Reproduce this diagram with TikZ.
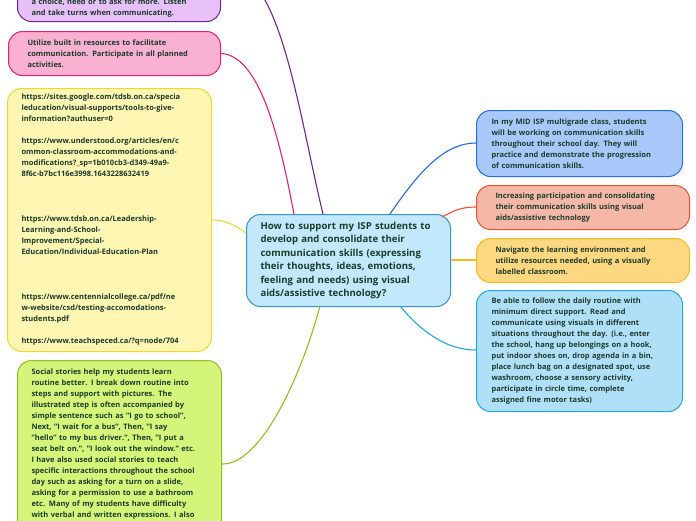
\documentclass[tikz,border=0pt]{standalone}
\usepackage{fontspec}
\setmainfont{Open Sans}
\begin{document}
\begin{tikzpicture}[x=1pt,y=-1pt,
 box/.style={draw,line width=1pt,rounded corners=14pt,anchor=north west,inner xsep=14pt,inner ysep=4pt,align=left,text=txt,font=\bfseries\fontsize{7.5}{11}\selectfont},
 conn/.style={line width=1.1pt}]
\definecolor{txt}{HTML}{1C3B2C}
\useasboundingbox (0,0) rectangle (696,520);
\clip (0,0) rectangle (696,520);
% boxes
\node[box,fill={rgb,255:red,232;green,192;blue,248},draw={rgb,255:red,110;green,40;blue,140},text width=175pt,anchor=south west] (pu) at (17,22) {\mbox{}\\[30pt]a choice, need or to ask for more. Listen\\and take turns when communicating.};
\node[box,fill={rgb,255:red,250;green,176;blue,208},draw={rgb,255:red,232;green,32;blue,120},text width=174pt,minimum height=44pt,inner xsep=19pt] (pi) at (8,31) {Utilize built in resources to facilitate\\communication. Participate in all planned\\activities.};
\node[box,fill={rgb,255:red,253;green,245;blue,178},draw={rgb,255:red,240;green,216;blue,50},text width=176pt,minimum height=263pt,inner xsep=14pt] (ye) at (7,88) {https://sites.google.com/tdsb.on.ca/specia\\leducation/visual-supports/tools-to-give-\\information?authuser=0\\[11pt]https://www.understood.org/articles/en/c\\ommon-classroom-accommodations-and-\\modifications?\_sp=1b010cb3-d349-49a9-\\8f6c-b7bc116e3998.1643228632419\\[34pt]https://www.tdsb.on.ca/Leadership-\\Learning-and-School-\\Improvement/Special-\\Education/Individual-Education-Plan\\[34pt]https://www.centennialcollege.ca/pdf/ne\\w-website/csd/testing-accomodations-\\students.pdf\\[11pt]https://www.teachspeced.ca/?q=node/704};
\node[box,fill={rgb,255:red,212;green,245;blue,122},draw={rgb,255:red,144;green,192;blue,32},text width=176pt,anchor=north west,inner ysep=8pt] (gr) at (17,360) {Social stories help my students learn\\routine better. I break down routine into\\steps and support with pictures. The\\illustrated step is often accompanied by\\simple sentence such as "I go to school",\\Next, "I wait for a bus", Then, "I say\\"hello" to my bus driver.", Then, "I put a\\seat belt on.", "I look out the window." etc.\\I have also used social stories to teach\\specific interactions throughout the school\\day such as asking for a turn on a slide,\\asking for a permission to use a bathroom\\etc. Many of my students have difficulty\\with verbal and written expressions. I also\\[40pt]\mbox{}};
\node[box,fill={rgb,255:red,194;green,232;blue,251},draw={rgb,255:red,58;green,144;blue,208},text width=176pt,minimum height=92pt,inner xsep=14pt,font=\bfseries\fontsize{9.6}{13.5}\selectfont] (c) at (246,214) {How to support my ISP students to\\develop and consolidate their\\communication skills (expressing\\their thoughts, ideas, emotions,\\feeling and needs) using visual\\aids/assistive technology?};
\node[box,fill={rgb,255:red,168;green,200;blue,250},draw={rgb,255:red,32;green,112;blue,224},text width=176pt,minimum height=66pt,inner xsep=15pt] (b1) at (476,110) {In my MID ISP multigrade class, students\\will be working on communication skills\\throughout their school day. They will\\practice and demonstrate the progression\\of communication skills.};
\node[box,fill={rgb,255:red,245;green,184;blue,168},draw={rgb,255:red,240;green,80;blue,48},text width=175pt,minimum height=44pt,inner xsep=19pt] (b2) at (476,185) {Increasing participation and consolidating\\their communication skills using visual\\aids/assistive technology};
\node[box,fill={rgb,255:red,253;green,216;blue,128},draw={rgb,255:red,248;green,184;blue,32},text width=175pt,minimum height=44pt,inner xsep=19pt] (b3) at (476,238) {Navigate the learning environment and\\utilize resources needed, using a visually\\labelled classroom.};
\node[box,fill={rgb,255:red,176;green,224;blue,248},draw={rgb,255:red,32;green,168;blue,232},text width=176pt,minimum height=121pt,inner xsep=15pt] (b4) at (476,290) {Be able to follow the daily routine with\\minimum direct support. Read and\\communicate using visuals in different\\situations throughout the day. (i.e., enter\\the school, hang up belongings on a hook,\\put indoor shoes on, drop agenda in a bin,\\place lunch bag on a designated spot, use\\washroom, choose a sensory activity,\\participate in circle time, complete\\assigned fine motor tasks)};
% connectors
\coordinate (put) at (262,-5);
\draw[conn,draw={rgb,255:red,110;green,40;blue,140}] (323,214) .. controls (305,140) and (290,40) .. (put);
\draw[conn,draw={rgb,255:red,232;green,32;blue,120}] (294,214) .. controls (280,140) and (260,55) .. (pi.east);
\draw[conn,draw={rgb,255:red,240;green,216;blue,50}] (c.west |- 0,233) .. controls (235,225) and (225,220) .. (ye.east |- 0,220);
\draw[conn,draw={rgb,255:red,144;green,192;blue,32}] (320,306) .. controls (300,380) and (260,465) .. (gr.east |- 0,464);
\draw[conn,draw={rgb,255:red,32;green,112;blue,224}] (390,214) .. controls (420,170) and (445,143) .. (b1.west |- 0,143);
\draw[conn,draw={rgb,255:red,240;green,80;blue,48}] (442,217) .. controls (455,210) and (462,207) .. (b2.west |- 0,207);
\draw[conn,draw={rgb,255:red,248;green,184;blue,32}] (c.east |- 0,260) -- (b3.west |- 0,260);
\draw[conn,draw={rgb,255:red,32;green,168;blue,232}] (400,306) .. controls (420,330) and (445,350) .. (b4.west |- 0,350);
\end{tikzpicture}
\end{document}
